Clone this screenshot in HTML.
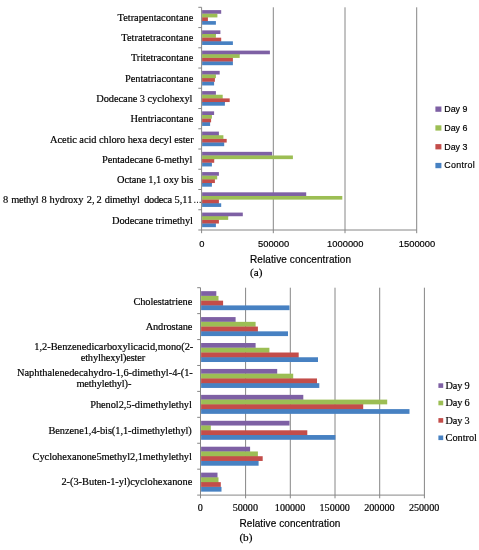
<!DOCTYPE html>
<html><head><meta charset="utf-8"><title>Relative concentration charts</title>
<style>
html,body{margin:0;padding:0;background:#fff;}
svg{display:block}
text{fill:#000;stroke:#000;stroke-width:0.18px;white-space:pre}
.ser{font-family:"Liberation Serif",serif;font-size:10.4px}
.num{font-family:"Liberation Sans",sans-serif;font-size:9.35px}
.numb{font-family:"Liberation Serif",serif;font-size:10.15px}
.ttl{font-family:"Liberation Sans",sans-serif;font-size:10px}
.cap{font-family:"Liberation Serif",serif;font-size:11.2px}
.leg{font-family:"Liberation Sans",sans-serif;font-size:8.9px}
.legb{font-family:"Liberation Serif",serif;font-size:10.3px}
</style></head>
<body>
<svg width="479" height="550" viewBox="0 0 479 550">
<rect x="0" y="0" width="479" height="550" fill="#ffffff"/>
<line x1="273.30" y1="7.30" x2="273.30" y2="233.20" stroke="#868686" stroke-width="1"/>
<line x1="345.00" y1="7.30" x2="345.00" y2="233.20" stroke="#868686" stroke-width="1"/>
<line x1="416.70" y1="7.30" x2="416.70" y2="233.20" stroke="#868686" stroke-width="1"/>
<rect x="202.10" y="10.12" width="19.10" height="3.65" fill="#7E60A4"/>
<rect x="202.10" y="13.72" width="15.30" height="0.28" fill="#7E60A4"/>
<rect x="202.10" y="13.77" width="15.30" height="3.65" fill="#9CBE54"/>
<rect x="202.10" y="17.37" width="5.80" height="0.63" fill="#9CBE54"/>
<rect x="202.10" y="17.42" width="5.80" height="3.65" fill="#C34D4A"/>
<rect x="202.10" y="21.02" width="5.80" height="0.98" fill="#C34D4A"/>
<rect x="202.10" y="21.07" width="13.80" height="3.65" fill="#4781C2"/>
<rect x="202.10" y="30.37" width="18.30" height="3.65" fill="#7E60A4"/>
<rect x="202.10" y="33.97" width="13.80" height="1.03" fill="#7E60A4"/>
<rect x="202.10" y="34.02" width="13.80" height="3.65" fill="#9CBE54"/>
<rect x="202.10" y="37.62" width="13.80" height="0.38" fill="#9CBE54"/>
<rect x="202.10" y="37.67" width="19.10" height="3.65" fill="#C34D4A"/>
<rect x="202.10" y="41.27" width="19.10" height="0.73" fill="#C34D4A"/>
<rect x="202.10" y="41.32" width="30.80" height="3.65" fill="#4781C2"/>
<rect x="202.10" y="50.61" width="67.80" height="3.65" fill="#7E60A4"/>
<rect x="202.10" y="54.21" width="37.60" height="0.79" fill="#7E60A4"/>
<rect x="202.10" y="54.26" width="37.60" height="3.65" fill="#9CBE54"/>
<rect x="202.10" y="57.86" width="30.80" height="0.14" fill="#9CBE54"/>
<rect x="202.10" y="57.91" width="30.80" height="3.65" fill="#C34D4A"/>
<rect x="202.10" y="61.51" width="30.80" height="0.49" fill="#C34D4A"/>
<rect x="202.10" y="61.56" width="30.80" height="3.65" fill="#4781C2"/>
<rect x="202.10" y="70.86" width="17.60" height="3.65" fill="#7E60A4"/>
<rect x="202.10" y="74.46" width="13.80" height="0.54" fill="#7E60A4"/>
<rect x="202.10" y="74.51" width="13.80" height="3.65" fill="#9CBE54"/>
<rect x="202.10" y="78.11" width="12.80" height="0.89" fill="#9CBE54"/>
<rect x="202.10" y="78.16" width="12.80" height="3.65" fill="#C34D4A"/>
<rect x="202.10" y="81.76" width="12.00" height="0.24" fill="#C34D4A"/>
<rect x="202.10" y="81.81" width="12.00" height="3.65" fill="#4781C2"/>
<rect x="202.10" y="91.10" width="13.80" height="3.65" fill="#7E60A4"/>
<rect x="202.10" y="94.70" width="13.80" height="0.30" fill="#7E60A4"/>
<rect x="202.10" y="94.75" width="20.60" height="3.65" fill="#9CBE54"/>
<rect x="202.10" y="98.35" width="20.60" height="0.65" fill="#9CBE54"/>
<rect x="202.10" y="98.40" width="27.60" height="3.65" fill="#C34D4A"/>
<rect x="202.10" y="102.00" width="22.80" height="1.00" fill="#C34D4A"/>
<rect x="202.10" y="102.05" width="22.80" height="3.65" fill="#4781C2"/>
<rect x="202.10" y="111.35" width="12.00" height="3.65" fill="#7E60A4"/>
<rect x="202.10" y="115.00" width="9.80" height="3.65" fill="#9CBE54"/>
<rect x="202.10" y="118.60" width="9.00" height="0.40" fill="#9CBE54"/>
<rect x="202.10" y="118.65" width="9.00" height="3.65" fill="#C34D4A"/>
<rect x="202.10" y="122.25" width="8.00" height="0.75" fill="#C34D4A"/>
<rect x="202.10" y="122.30" width="8.00" height="3.65" fill="#4781C2"/>
<rect x="202.10" y="131.60" width="16.80" height="3.65" fill="#7E60A4"/>
<rect x="202.10" y="135.20" width="16.80" height="0.80" fill="#7E60A4"/>
<rect x="202.10" y="135.25" width="21.30" height="3.65" fill="#9CBE54"/>
<rect x="202.10" y="138.85" width="21.30" height="0.15" fill="#9CBE54"/>
<rect x="202.10" y="138.90" width="24.60" height="3.65" fill="#C34D4A"/>
<rect x="202.10" y="142.50" width="22.10" height="0.50" fill="#C34D4A"/>
<rect x="202.10" y="142.55" width="22.10" height="3.65" fill="#4781C2"/>
<rect x="202.10" y="151.84" width="70.00" height="3.65" fill="#7E60A4"/>
<rect x="202.10" y="155.44" width="70.00" height="0.56" fill="#7E60A4"/>
<rect x="202.10" y="155.49" width="90.80" height="3.65" fill="#9CBE54"/>
<rect x="202.10" y="159.09" width="12.10" height="0.91" fill="#9CBE54"/>
<rect x="202.10" y="159.14" width="12.10" height="3.65" fill="#C34D4A"/>
<rect x="202.10" y="162.74" width="9.80" height="0.26" fill="#C34D4A"/>
<rect x="202.10" y="162.79" width="9.80" height="3.65" fill="#4781C2"/>
<rect x="202.10" y="172.09" width="16.80" height="3.65" fill="#7E60A4"/>
<rect x="202.10" y="175.69" width="15.10" height="0.31" fill="#7E60A4"/>
<rect x="202.10" y="175.74" width="15.10" height="3.65" fill="#9CBE54"/>
<rect x="202.10" y="179.34" width="12.80" height="0.66" fill="#9CBE54"/>
<rect x="202.10" y="179.39" width="12.80" height="3.65" fill="#C34D4A"/>
<rect x="202.10" y="182.99" width="9.80" height="1.01" fill="#C34D4A"/>
<rect x="202.10" y="183.04" width="9.80" height="3.65" fill="#4781C2"/>
<rect x="202.10" y="192.33" width="104.10" height="3.65" fill="#7E60A4"/>
<rect x="202.10" y="195.93" width="104.10" height="0.07" fill="#7E60A4"/>
<rect x="202.10" y="195.98" width="140.20" height="3.65" fill="#9CBE54"/>
<rect x="202.10" y="199.58" width="16.80" height="0.42" fill="#9CBE54"/>
<rect x="202.10" y="199.63" width="16.80" height="3.65" fill="#C34D4A"/>
<rect x="202.10" y="203.23" width="16.80" height="0.77" fill="#C34D4A"/>
<rect x="202.10" y="203.28" width="19.10" height="3.65" fill="#4781C2"/>
<rect x="202.10" y="212.58" width="40.70" height="3.65" fill="#7E60A4"/>
<rect x="202.10" y="216.18" width="26.10" height="0.82" fill="#7E60A4"/>
<rect x="202.10" y="216.23" width="26.10" height="3.65" fill="#9CBE54"/>
<rect x="202.10" y="219.83" width="16.80" height="0.17" fill="#9CBE54"/>
<rect x="202.10" y="219.88" width="16.80" height="3.65" fill="#C34D4A"/>
<rect x="202.10" y="223.48" width="13.80" height="0.52" fill="#C34D4A"/>
<rect x="202.10" y="223.53" width="13.80" height="3.65" fill="#4781C2"/>
<line x1="201.60" y1="7.30" x2="201.60" y2="233.20" stroke="#868686" stroke-width="1"/>
<line x1="198.30" y1="230.00" x2="416.70" y2="230.00" stroke="#868686" stroke-width="1"/>
<line x1="198.30" y1="7.30" x2="201.60" y2="7.30" stroke="#868686" stroke-width="1"/>
<line x1="198.30" y1="27.55" x2="201.60" y2="27.55" stroke="#868686" stroke-width="1"/>
<line x1="198.30" y1="47.79" x2="201.60" y2="47.79" stroke="#868686" stroke-width="1"/>
<line x1="198.30" y1="68.04" x2="201.60" y2="68.04" stroke="#868686" stroke-width="1"/>
<line x1="198.30" y1="88.28" x2="201.60" y2="88.28" stroke="#868686" stroke-width="1"/>
<line x1="198.30" y1="108.53" x2="201.60" y2="108.53" stroke="#868686" stroke-width="1"/>
<line x1="198.30" y1="128.77" x2="201.60" y2="128.77" stroke="#868686" stroke-width="1"/>
<line x1="198.30" y1="149.02" x2="201.60" y2="149.02" stroke="#868686" stroke-width="1"/>
<line x1="198.30" y1="169.26" x2="201.60" y2="169.26" stroke="#868686" stroke-width="1"/>
<line x1="198.30" y1="189.51" x2="201.60" y2="189.51" stroke="#868686" stroke-width="1"/>
<line x1="198.30" y1="209.75" x2="201.60" y2="209.75" stroke="#868686" stroke-width="1"/>
<text x="117.60" y="20.62" class="ser" text-anchor="start" textLength="75.7" lengthAdjust="spacing">Tetrapentacontane</text>
<text x="121.30" y="41.17" class="ser" text-anchor="start" textLength="72.0" lengthAdjust="spacing">Tetratetracontane</text>
<text x="130.90" y="61.41" class="ser" text-anchor="start" textLength="62.4" lengthAdjust="spacing">Tritetracontane</text>
<text x="125.10" y="82.26" class="ser" text-anchor="start" textLength="68.2" lengthAdjust="spacing">Pentatriacontane</text>
<text x="96.30" y="101.60" class="ser" text-anchor="start" textLength="96.2" lengthAdjust="spacing">Dodecane 3 cyclohexyl</text>
<text x="130.60" y="122.15" class="ser" text-anchor="start" textLength="62.7" lengthAdjust="spacing">Hentriacontane</text>
<text x="50.10" y="142.80" class="ser" text-anchor="start" textLength="143.5" lengthAdjust="spacing">Acetic acid chloro hexa decyl ester</text>
<text x="102.00" y="162.74" class="ser" text-anchor="start" textLength="90.3" lengthAdjust="spacing">Pentadecane 6-methyl</text>
<text x="117.00" y="182.59" class="ser" text-anchor="start" textLength="76.3" lengthAdjust="spacing">Octane 1,1 oxy bis</text>
<text y="202.53" class="ser"><tspan x="3.1">8 </tspan><tspan x="11.2" textLength="29.9" lengthAdjust="spacing">methyl </tspan><tspan x="41.6">8 </tspan><tspan x="49.6" textLength="36.2" lengthAdjust="spacing">hydroxy </tspan><tspan x="86.8">2, </tspan><tspan x="96.6">2 </tspan><tspan x="104.7" textLength="37.6" lengthAdjust="spacing">dimethyl </tspan><tspan x="144.2" textLength="30.1" lengthAdjust="spacing">dodeca </tspan><tspan x="174.4" textLength="18.0" lengthAdjust="spacing">5,11</tspan><tspan x="193.5" textLength="8.0" lengthAdjust="spacingAndGlyphs">…</tspan></text>
<text x="112.00" y="223.68" class="ser" text-anchor="start" textLength="81.0" lengthAdjust="spacing">Dodecane trimethyl</text>
<text x="201.90" y="246.60" class="num" text-anchor="middle">0</text>
<text x="273.60" y="246.60" class="num" text-anchor="middle">500000</text>
<text x="345.30" y="246.60" class="num" text-anchor="middle">1000000</text>
<text x="417.00" y="246.60" class="num" text-anchor="middle">1500000</text>
<text x="250.00" y="262.70" class="ttl" text-anchor="start" textLength="101.0" lengthAdjust="spacing">Relative concentration</text>
<text x="250.00" y="275.90" class="cap" text-anchor="start">(a)</text>
<rect x="435.40" y="106.50" width="6.00" height="5.30" fill="#7E60A4"/>
<text x="444.20" y="112.00" class="leg" text-anchor="start" textLength="23.3" lengthAdjust="spacing">Day 9</text>
<rect x="435.40" y="125.30" width="6.00" height="5.30" fill="#9CBE54"/>
<text x="444.20" y="130.80" class="leg" text-anchor="start" textLength="23.3" lengthAdjust="spacing">Day 6</text>
<rect x="435.40" y="144.10" width="6.00" height="5.30" fill="#C34D4A"/>
<text x="444.20" y="149.60" class="leg" text-anchor="start" textLength="23.3" lengthAdjust="spacing">Day 3</text>
<rect x="435.40" y="162.90" width="6.00" height="5.30" fill="#4781C2"/>
<text x="444.20" y="168.40" class="leg" text-anchor="start" textLength="30.5" lengthAdjust="spacing">Control</text>
<line x1="245.60" y1="287.70" x2="245.60" y2="498.30" stroke="#868686" stroke-width="1"/>
<line x1="290.30" y1="287.70" x2="290.30" y2="498.30" stroke="#868686" stroke-width="1"/>
<line x1="335.00" y1="287.70" x2="335.00" y2="498.30" stroke="#868686" stroke-width="1"/>
<line x1="379.70" y1="287.70" x2="379.70" y2="498.30" stroke="#868686" stroke-width="1"/>
<line x1="424.40" y1="287.70" x2="424.40" y2="498.30" stroke="#868686" stroke-width="1"/>
<rect x="201.10" y="291.16" width="15.20" height="4.75" fill="#7E60A4"/>
<rect x="201.10" y="295.86" width="15.20" height="0.14" fill="#7E60A4"/>
<rect x="201.10" y="295.91" width="17.40" height="4.75" fill="#9CBE54"/>
<rect x="201.10" y="300.61" width="17.40" height="0.39" fill="#9CBE54"/>
<rect x="201.10" y="300.66" width="22.00" height="4.75" fill="#C34D4A"/>
<rect x="201.10" y="305.36" width="22.00" height="0.64" fill="#C34D4A"/>
<rect x="201.10" y="305.41" width="88.40" height="4.75" fill="#4781C2"/>
<rect x="201.10" y="317.09" width="34.50" height="4.75" fill="#7E60A4"/>
<rect x="201.10" y="321.79" width="34.50" height="0.21" fill="#7E60A4"/>
<rect x="201.10" y="321.84" width="54.50" height="4.75" fill="#9CBE54"/>
<rect x="201.10" y="326.54" width="54.50" height="0.46" fill="#9CBE54"/>
<rect x="201.10" y="326.59" width="56.80" height="4.75" fill="#C34D4A"/>
<rect x="201.10" y="331.29" width="56.80" height="0.71" fill="#C34D4A"/>
<rect x="201.10" y="331.34" width="86.90" height="4.75" fill="#4781C2"/>
<rect x="201.10" y="343.01" width="54.50" height="4.75" fill="#7E60A4"/>
<rect x="201.10" y="347.71" width="54.50" height="0.29" fill="#7E60A4"/>
<rect x="201.10" y="347.76" width="68.30" height="4.75" fill="#9CBE54"/>
<rect x="201.10" y="352.46" width="68.30" height="0.54" fill="#9CBE54"/>
<rect x="201.10" y="352.51" width="97.60" height="4.75" fill="#C34D4A"/>
<rect x="201.10" y="357.21" width="97.60" height="0.79" fill="#C34D4A"/>
<rect x="201.10" y="357.26" width="116.90" height="4.75" fill="#4781C2"/>
<rect x="201.10" y="368.94" width="76.10" height="4.75" fill="#7E60A4"/>
<rect x="201.10" y="373.64" width="76.10" height="0.36" fill="#7E60A4"/>
<rect x="201.10" y="373.69" width="92.10" height="4.75" fill="#9CBE54"/>
<rect x="201.10" y="378.39" width="92.10" height="0.61" fill="#9CBE54"/>
<rect x="201.10" y="378.44" width="115.90" height="4.75" fill="#C34D4A"/>
<rect x="201.10" y="383.14" width="115.90" height="0.86" fill="#C34D4A"/>
<rect x="201.10" y="383.19" width="118.20" height="4.75" fill="#4781C2"/>
<rect x="201.10" y="394.86" width="102.20" height="4.75" fill="#7E60A4"/>
<rect x="201.10" y="399.56" width="102.20" height="0.44" fill="#7E60A4"/>
<rect x="201.10" y="399.61" width="186.10" height="4.75" fill="#9CBE54"/>
<rect x="201.10" y="404.31" width="162.10" height="0.69" fill="#9CBE54"/>
<rect x="201.10" y="404.36" width="162.10" height="4.75" fill="#C34D4A"/>
<rect x="201.10" y="409.06" width="162.10" height="0.94" fill="#C34D4A"/>
<rect x="201.10" y="409.11" width="208.40" height="4.75" fill="#4781C2"/>
<rect x="201.10" y="420.79" width="88.40" height="4.75" fill="#7E60A4"/>
<rect x="201.10" y="425.49" width="9.70" height="0.51" fill="#7E60A4"/>
<rect x="201.10" y="425.54" width="9.70" height="4.75" fill="#9CBE54"/>
<rect x="201.10" y="430.24" width="9.70" height="0.76" fill="#9CBE54"/>
<rect x="201.10" y="430.29" width="106.20" height="4.75" fill="#C34D4A"/>
<rect x="201.10" y="434.99" width="106.20" height="1.01" fill="#C34D4A"/>
<rect x="201.10" y="435.04" width="134.30" height="4.75" fill="#4781C2"/>
<rect x="201.10" y="446.71" width="49.00" height="4.75" fill="#7E60A4"/>
<rect x="201.10" y="451.41" width="49.00" height="0.59" fill="#7E60A4"/>
<rect x="201.10" y="451.46" width="56.80" height="4.75" fill="#9CBE54"/>
<rect x="201.10" y="456.16" width="56.80" height="0.84" fill="#9CBE54"/>
<rect x="201.10" y="456.21" width="61.60" height="4.75" fill="#C34D4A"/>
<rect x="201.10" y="460.91" width="57.50" height="0.09" fill="#C34D4A"/>
<rect x="201.10" y="460.96" width="57.50" height="4.75" fill="#4781C2"/>
<rect x="201.10" y="472.64" width="16.40" height="4.75" fill="#7E60A4"/>
<rect x="201.10" y="477.34" width="16.40" height="0.66" fill="#7E60A4"/>
<rect x="201.10" y="477.39" width="17.40" height="4.75" fill="#9CBE54"/>
<rect x="201.10" y="482.09" width="17.40" height="0.91" fill="#9CBE54"/>
<rect x="201.10" y="482.14" width="19.70" height="4.75" fill="#C34D4A"/>
<rect x="201.10" y="486.84" width="19.70" height="0.16" fill="#C34D4A"/>
<rect x="201.10" y="486.89" width="20.40" height="4.75" fill="#4781C2"/>
<line x1="200.50" y1="287.70" x2="200.50" y2="498.30" stroke="#868686" stroke-width="1"/>
<line x1="197.20" y1="495.10" x2="424.40" y2="495.10" stroke="#868686" stroke-width="1"/>
<line x1="197.20" y1="287.70" x2="200.50" y2="287.70" stroke="#868686" stroke-width="1"/>
<line x1="197.20" y1="313.62" x2="200.50" y2="313.62" stroke="#868686" stroke-width="1"/>
<line x1="197.20" y1="339.55" x2="200.50" y2="339.55" stroke="#868686" stroke-width="1"/>
<line x1="197.20" y1="365.48" x2="200.50" y2="365.48" stroke="#868686" stroke-width="1"/>
<line x1="197.20" y1="391.40" x2="200.50" y2="391.40" stroke="#868686" stroke-width="1"/>
<line x1="197.20" y1="417.33" x2="200.50" y2="417.33" stroke="#868686" stroke-width="1"/>
<line x1="197.20" y1="443.25" x2="200.50" y2="443.25" stroke="#868686" stroke-width="1"/>
<line x1="197.20" y1="469.18" x2="200.50" y2="469.18" stroke="#868686" stroke-width="1"/>
<text x="133.40" y="304.56" class="ser" text-anchor="start" textLength="58.9" lengthAdjust="spacing">Cholestatriene</text>
<text x="145.70" y="330.19" class="ser" text-anchor="start" textLength="46.6" lengthAdjust="spacing">Androstane</text>
<text x="34.30" y="350.21" class="ser" text-anchor="start" textLength="159.0" lengthAdjust="spacing">1,2-Benzenedicarboxylicacid,mono(2-</text>
<text x="80.70" y="361.21" class="ser" text-anchor="start" textLength="64.5" lengthAdjust="spacing">ethylhexyl)ester</text>
<text x="17.00" y="376.14" class="ser" text-anchor="start" textLength="175.8" lengthAdjust="spacing">Naphthalenedecahydro-1,6-dimethyl-4-(1-</text>
<text x="76.40" y="387.14" class="ser" text-anchor="start" textLength="55.0" lengthAdjust="spacing">methylethyl)-</text>
<text x="90.20" y="407.96" class="ser" text-anchor="start" textLength="101.6" lengthAdjust="spacing">Phenol2,5-dimethylethyl</text>
<text x="48.40" y="433.89" class="ser" text-anchor="start" textLength="143.4" lengthAdjust="spacing">Benzene1,4-bis(1,1-dimethylethyl)</text>
<text x="32.60" y="459.51" class="ser" text-anchor="start" textLength="159.2" lengthAdjust="spacing">Cyclohexanone5methyl2,1methylethyl</text>
<text x="61.40" y="485.24" class="ser" text-anchor="start" textLength="130.9" lengthAdjust="spacing">2-(3-Buten-1-yl)cyclohexanone</text>
<text x="200.20" y="510.70" class="numb" text-anchor="middle">0</text>
<text x="245.30" y="510.70" class="numb" text-anchor="middle">50000</text>
<text x="290.00" y="510.70" class="numb" text-anchor="middle">100000</text>
<text x="334.70" y="510.70" class="numb" text-anchor="middle">150000</text>
<text x="379.40" y="510.70" class="numb" text-anchor="middle">200000</text>
<text x="424.10" y="510.70" class="numb" text-anchor="middle">250000</text>
<text x="239.40" y="527.40" class="ttl" text-anchor="start" textLength="101.0" lengthAdjust="spacing">Relative concentration</text>
<text x="239.40" y="541.00" class="cap" text-anchor="start">(b)</text>
<rect x="438.40" y="383.30" width="4.80" height="4.60" fill="#7E60A4"/>
<text x="445.60" y="388.70" class="legb" text-anchor="start" textLength="24.0" lengthAdjust="spacing">Day 9</text>
<rect x="438.40" y="400.70" width="4.80" height="4.60" fill="#9CBE54"/>
<text x="445.60" y="406.10" class="legb" text-anchor="start" textLength="24.0" lengthAdjust="spacing">Day 6</text>
<rect x="438.40" y="418.10" width="4.80" height="4.60" fill="#C34D4A"/>
<text x="445.60" y="423.50" class="legb" text-anchor="start" textLength="24.0" lengthAdjust="spacing">Day 3</text>
<rect x="438.40" y="435.50" width="4.80" height="4.60" fill="#4781C2"/>
<text x="445.60" y="440.90" class="legb" text-anchor="start" textLength="31.3" lengthAdjust="spacing">Control</text>
</svg>
</body></html>
